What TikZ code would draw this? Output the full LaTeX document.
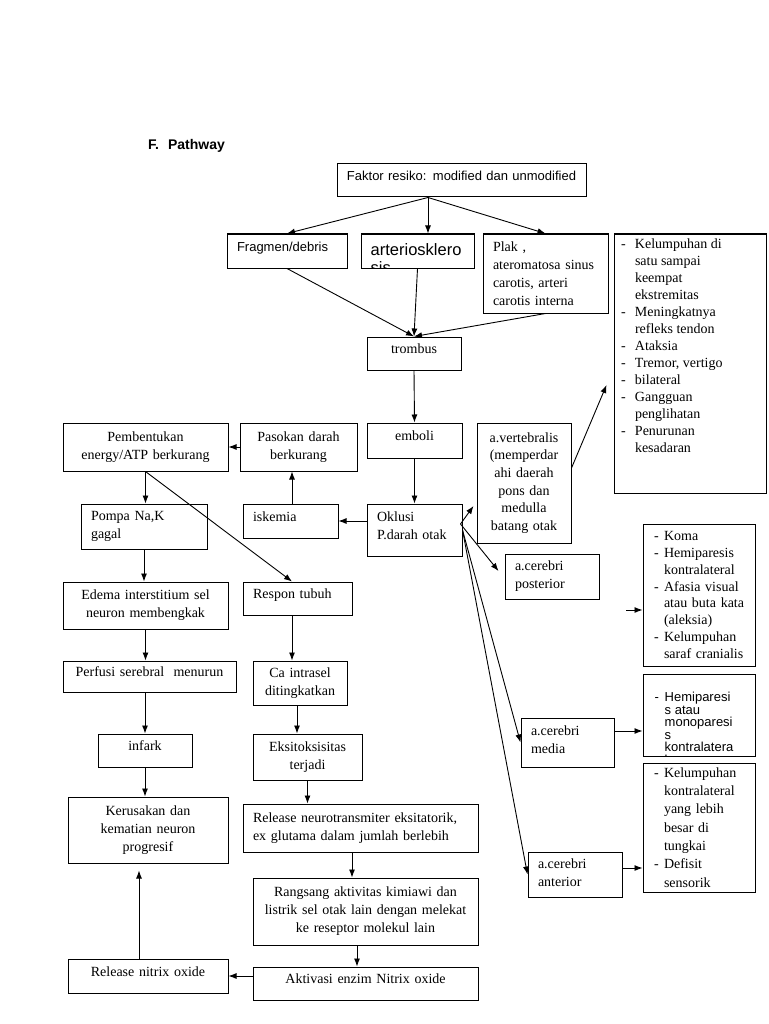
\documentclass[tikz,border=0pt]{standalone}
\usepackage{fontspec}
\setmainfont{Liberation Serif}
\newfontfamily\arial{Liberation Sans}
\usetikzlibrary{arrows.meta}
\usetikzlibrary{calc}

\newcommand{\tms}{\fontsize{14}{18}\selectfont}
\newcommand{\hlv}{\arial\fontsize{13}{16}\selectfont}
\newcommand{\hlvrapat}{\arial\fontsize{13}{12.5}\selectfont\lineskiplimit=-20pt\relax}
\newcommand{\itemd}[2][14pt]{\makebox[#1][l]{-}\mbox{#2}}
\newcommand{\itemc}[2][14pt]{\hspace*{#1}\mbox{#2}}

\tikzset{
  box/.style={draw, line width=1pt, inner sep=0pt, font=\tms, align=center},
  lbox/.style={box, align=left, inner xsep=10pt},
  oneline/.style={text depth=9pt},
  arr/.style={-{Latex[length=8pt,width=6pt]}, line width=0.9pt}
}

\begin{document}
\begin{tikzpicture}[x=1pt,y=-1pt]
  \useasboundingbox (0,0) rectangle (768,1024);
  \node[anchor=west, inner sep=0pt, font=\arial\bfseries\fontsize{14}{16}\selectfont] (judul) at (148,146) {F.\hspace{9pt}Pathway};

  % atas
  \node[box, oneline, font=\hlv, text width=249pt, minimum height=33pt] (faktor) at (461.5,180.5) {Faktor resiko: modified dan unmodified};
  \node[lbox, oneline, font=\hlv, text width=100pt, minimum height=34pt] (fragmen) at (287,251) {Fragmen/debris};
  \node[box, text width=113pt, minimum height=34pt] (arterio) at (417.5,251) {};
  \begin{scope}
    \clip (arterio.north west) rectangle (arterio.south east);
    \node[anchor=north west, inner sep=0pt, align=left, font=\arial\fontsize{16.5}{17.5}\selectfont] (arterio-t) at ([xshift=10pt,yshift=-10pt]arterio.north west) {arteriosklero\\sis};
  \end{scope}
  \node[lbox, text width=105pt, minimum height=79pt] (plak) at (545.5,273.5) {Plak ,\\ateromatosa sinus\\carotis, arteri\\carotis interna};
  \node[box, oneline, text width=94pt, minimum height=33pt] (trombus) at (414,353.5) {trombus};

  \node[box, inner xsep=7pt, inner ysep=0pt] (gejala1) at (690,363.5) {\parbox[c][259pt][t]{138pt}{\raggedright\fontsize{14}{17}\selectfont\vspace*{4.5pt}%
    \itemd{Kelumpuhan di}\\\itemc{satu sampai}\\\itemc{keempat}\\\itemc{ekstremitas}\\
    \itemd{Meningkatnya}\\\itemc{refleks tendon}\\\itemd{Ataksia}\\\itemd{Tremor, vertigo}\\
    \itemd{bilateral}\\\itemd{Gangguan}\\\itemc{penglihatan}\\\itemd{Penurunan}\\\itemc{kesadaran}}};

  % kolom kiri dan tengah
  \node[box, text width=165pt, minimum height=48pt] (energi) at (145.5,447) {Pembentukan\\energy/ATP berkurang};
  \node[box, text width=117pt, minimum height=48pt] (pasokan) at (298.5,447) {Pasokan darah\\berkurang};
  \node[box, oneline, text width=95pt, minimum height=35pt] (emboli) at (414.5,440.5) {emboli};
  \node[box, text width=94pt, minimum height=120pt, font=\fontsize{14}{17.6}\selectfont] (vertebralis) at (524,483) {a.vertebralis\\(memperdar\\ahi daerah\\pons dan\\medulla\\batang otak};
  \node[lbox, text width=106pt, minimum height=45pt] (pompa) at (144,526.5) {Pompa Na,K\\gagal};
  \node[lbox, oneline, text width=75pt, minimum height=34pt] (iskemia) at (290.5,521) {iskemia};
  \node[lbox, text width=75pt, minimum height=52pt, text depth=27.6pt] (oklusi) at (414.5,530) {Oklusi\\P.darah otak};
  \node[lbox, text width=74pt, minimum height=45pt] (posterior) at (552,576.5) {a.cerebri\\posterior};
  \node[box, align=left, inner xsep=11pt, text width=90pt, minimum height=142pt, font=\fontsize{14}{16.8}\selectfont] (koma) at (699,595) {\itemd[10pt]{Koma}\\\itemd[10pt]{Hemiparesis}\\\itemc[10pt]{kontralateral}\\\itemd[10pt]{Afasia visual}\\\itemc[10pt]{atau buta kata}\\\itemc[10pt]{(aleksia)}\\\itemd[10pt]{Kelumpuhan}\\\itemc[10pt]{saraf cranialis}};
  \node[box, text width=165pt, minimum height=47pt] (edema) at (145.5,605.5) {Edema interstitium sel\\neuron membengkak};
  \node[lbox, oneline, text width=89pt, minimum height=33pt] (respon) at (297.5,598.5) {Respon tubuh};
  \node[box, oneline, text width=173pt, minimum height=31pt] (perfusi) at (149.5,676.5) {Perfusi serebral~ menurun};
  \node[box, text width=94pt, minimum height=44pt] (ca) at (300,683) {Ca intrasel\\ditingkatkan};
  \node[box, text width=112pt, minimum height=82pt] (hemi) at (699,715) {};
  \begin{scope}
    \clip (hemi.north west) rectangle (hemi.south east);
    \node[anchor=north west, inner sep=0pt, align=left, font=\hlvrapat] (hemi-t) at ([xshift=12pt,yshift=-18.5pt]hemi.north west) {\itemd[10pt]{Hemiparesi}\\\itemc[10pt]{s atau}\\\itemc[10pt]{monoparesi}\\\itemc[10pt]{s}\\\itemc[10pt]{kontralatera}\\\itemc[10pt]{l}};
  \end{scope}
  \node[lbox, text width=73pt, minimum height=49pt, text depth=24.6pt] (media) at (567.5,742.5) {a.cerebri\\media};
  \node[box, oneline, text width=94pt, minimum height=33pt] (infark) at (145,750.5) {infark};
  \node[box, text width=109pt, minimum height=46pt] (eksito) at (307.5,757) {Eksitoksisitas\\terjadi};
  \node[box, align=left, inner xsep=11pt, text width=90pt, minimum height=129pt, font=\fontsize{14}{18.3}\selectfont] (kumpul) at (699,827.5) {\itemd[10pt]{Kelumpuhan}\\\itemc[10pt]{kontralateral}\\\itemc[10pt]{yang lebih}\\\itemc[10pt]{besar di}\\\itemc[10pt]{tungkai}\\\itemd[10pt]{Defisit}\\\itemc[10pt]{sensorik}};
  \node[box, text width=160pt, minimum height=66pt] (kerusakan) at (148,830) {Kerusakan dan\\kematian neuron\\progresif};
  \node[lbox, text width=215pt, minimum height=48pt] (neuro) at (360.5,828) {Release neurotransmiter eksitatorik,\\ex glutama dalam jumlah berlebih};
  \node[lbox, text width=74pt, minimum height=45pt, text depth=22.6pt] (anterior) at (575,874.5) {a.cerebri\\anterior};
  \node[box, text width=225pt, minimum height=67pt] (rangsang) at (365.5,911.5) {Rangsang aktivitas kimiawi dan\\listrik sel otak lain dengan melekat\\ke reseptor molekul lain};
  \node[box, oneline, text width=160pt, minimum height=34pt] (nitrix) at (148,976) {Release nitrix oxide};
  \node[box, oneline, text width=225pt, minimum height=33pt] (aktivasi) at (365.5,983.5) {Aktivasi enzim Nitrix oxide};

  % panah
  \coordinate (pusat) at ([xshift=-33.5pt]faktor.south);
  \draw[arr] (pusat) -- (fragmen.north);
  \draw[arr] (pusat) -- ([xshift=10.5pt]arterio.north);
  \draw[arr] (pusat) -- (plak.north);
  \draw[arr] (fragmen.south) -- (trombus.north);
  \draw[arr] (arterio.south) -- (trombus.north);
  \draw[arr] (plak.south) -- (trombus.north);
  \draw[arr] (trombus.south) -- (emboli.north);
  \draw[arr] (emboli.south) -- (oklusi.north);
  \draw[arr] (oklusi.west |- iskemia.east) -- (iskemia.east);
  \draw[arr] ([xshift=1.5pt]iskemia.north) -- ([xshift=1.5pt]iskemia.north |- pasokan.south);
  \draw[arr] (pasokan.west) -- (energi.east);
  \draw[arr] (energi.south) -- (energi.south |- pompa.north);
  \draw[arr] (energi.south) -- ([xshift=-5.5pt]respon.north);
  \draw[arr] (pompa.south) -- (pompa.south |- edema.north);
  \draw[arr] (edema.south) -- (edema.south |- perfusi.north);
  \draw[arr] (infark.north |- perfusi.south) -- (infark.north);
  \draw[arr] (infark.south) -- (infark.south |- kerusakan.north);
  \draw[arr] ([xshift=-5.5pt]respon.south) -- ([xshift=-5.5pt]respon.south |- ca.north);
  \draw[arr] ([xshift=-3pt]ca.south) -- ([xshift=-3pt]ca.south |- eksito.north);
  \draw[arr] (eksito.south) -- (eksito.south |- neuro.north);
  \draw[arr] ([xshift=-8.5pt]neuro.south) -- ([xshift=-8.5pt]neuro.south |- rangsang.north);
  \draw[arr] ([xshift=-8.5pt]rangsang.south) -- ([xshift=-8.5pt]rangsang.south |- aktivasi.north);
  \draw[arr] (aktivasi.west |- nitrix.east) -- (nitrix.east);
  \draw[arr, shorten >=7pt] ([xshift=-9pt]nitrix.north) -- ([xshift=-9pt]nitrix.north |- kerusakan.south);

  \coordinate (cabang) at ([xshift=-2pt,yshift=6pt]oklusi.east);
  \draw[arr] (cabang) -- ([xshift=-3pt,yshift=-23pt]vertebralis.west);
  \draw[arr] (cabang) -- ([xshift=-6pt,yshift=5.5pt]posterior.west);
  \draw[arr] (oklusi.east) -- (media.west);
  \draw[arr] (oklusi.east) -- (anterior.west);
  \draw[arr] ([yshift=15pt]vertebralis.east) -- ([xshift=-7pt,yshift=-21.5pt]gejala1.west);
  \coordinate (panah) at (626,610);
  \draw[arr] (panah) -- (panah -| koma.west);
  \draw[arr] ([yshift=11.5pt]media.east) -- ([yshift=11.5pt]media.east -| hemi.west);
  \draw[arr] ([yshift=6.5pt]anterior.east) -- ([yshift=6.5pt]anterior.east -| kumpul.west);
\end{tikzpicture}
\end{document}
